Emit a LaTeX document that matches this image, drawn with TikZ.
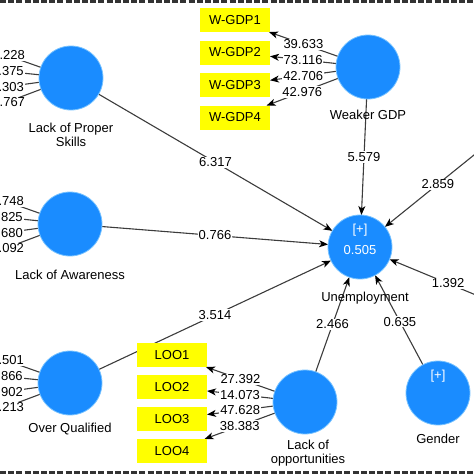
\documentclass[tikz,border=0pt]{standalone}
\usepackage{fontspec}
\setmainfont{Liberation Sans}
\usetikzlibrary{arrows.meta}
\definecolor{lvblue}{RGB}{26,140,255}
\definecolor{lvring}{RGB}{120,195,255}
\definecolor{edgegray}{RGB}{60,60,60}
\definecolor{indyellow}{RGB}{255,255,0}
\pgfdeclarelayer{bg}
\pgfsetlayers{bg,main}
\begin{document}
\begin{tikzpicture}[x=1pt,y=-1pt,
  font=\fontsize{13}{14.5}\selectfont,
  lv/.style={circle, fill=lvblue, draw=lvring, line width=0.8pt, minimum size=64pt, inner sep=0pt, outer sep=0pt},
  indbox/.style={rectangle, fill=indyellow, minimum width=70pt, minimum height=24pt, inner sep=0pt, outer sep=0pt},
  conn/.style={draw=edgegray, line width=1.1pt, -{Stealth[length=9pt,width=7pt,inset=2.5pt,color=black]}},
  plainconn/.style={draw=edgegray, line width=1.1pt},
  wt/.style={fill=white, inner sep=1pt, text=black},
  lvlabel/.style={align=center, inner sep=0pt, text=black},
  intext/.style={text=white, inner sep=0pt},
  borderdash/.style={draw=black!80, line width=3pt, dash pattern=on 6pt off 2.2pt}
]
\useasboundingbox (0,0) rectangle (474,474);

% latent variables
\node[lv] (LPS) at (71,78) {};
\node[lv] (LA) at (70,224) {};
\node[lv] (OQ) at (70,383) {};
\node[lv] (WG) at (368,67) {};
\node[lv] (UN) at (360,247) {};
\node[lv] (LO) at (305,402) {};
\node[lv] (GE) at (438,393) {};

\node[intext] (unplus) at (360,230) {[+]};
\node[intext] (unr) at (360,250) {0.505};
\node[intext] (geplus) at (438,376) {[+]};

% labels of latent variables
\node[lvlabel] (tLPS) at (71,135) {Lack of Proper\\Skills};
\node[lvlabel] (tLA) at (70,275) {Lack of Awareness};
\node[lvlabel] (tOQ) at (70,429) {Over Qualified};
\node[lvlabel] (tWG) at (368,115) {Weaker GDP};
\node[lvlabel] (tUN) at (365,298) {Unemployment};
\node[lvlabel] (tLO) at (308,453) {Lack of\\opportunities};
\node[lvlabel] (tGE) at (438,439) {Gender};

% indicator boxes
\node[indbox] (g1) at (235,20) {W-GDP1};
\node[indbox] (g2) at (235,52.5) {W-GDP2};
\node[indbox] (g3) at (235,85) {W-GDP3};
\node[indbox] (g4) at (235,117.5) {W-GDP4};
\node[indbox] (l1) at (172,355) {LOO1};
\node[indbox] (l2) at (172,387) {LOO2};
\node[indbox] (l3) at (172,419) {LOO3};
\node[indbox] (l4) at (172,451) {LOO4};

% off-canvas ends
\coordinate (rUp) at (500,134);
\coordinate (rDn) at (500,305);
\path (LPS) ++(-133,-47) coordinate (pA1) (LPS) ++(-133,-13.5) coordinate (pA2)
      (LPS) ++(-133,18) coordinate (pA3) (LPS) ++(-133,50) coordinate (pA4);
\path (LA) ++(-133,-47) coordinate (pB1) (LA) ++(-133,-13.5) coordinate (pB2)
      (LA) ++(-133,18) coordinate (pB3) (LA) ++(-133,50) coordinate (pB4);
\path (OQ) ++(-133,-47) coordinate (pC1) (OQ) ++(-133,-13.5) coordinate (pC2)
      (OQ) ++(-133,18) coordinate (pC3) (OQ) ++(-133,50) coordinate (pC4);

\begin{pgfonlayer}{bg}
% structural paths
\draw[conn] (LPS) -- node[wt,pos=0.5]{6.317} (UN);
\draw[conn] (LA) -- node[wt,pos=0.5]{0.766} (UN);
\draw[conn] (OQ) -- node[wt,pos=0.5]{3.514} (UN);
\draw[conn] (WG) -- node[wt,pos=0.5]{5.579} (UN);
\draw[conn] (rUp) -- node[wt,pos=0.54]{2.859} (UN);
\draw[conn] (rDn) -- node[wt,pos=0.47]{1.392} (UN);
\draw[conn] (LO) -- node[wt,pos=0.5]{2.466} (UN);
\draw[conn] (GE) -- node[wt,pos=0.48]{0.635} (UN);

% outer loadings
\draw[conn] (WG) -- node[wt,pos=0.5]{39.633} (g1);
\draw[conn] (WG) -- node[wt,pos=0.5]{73.116} (g2);
\draw[conn] (WG) -- node[wt,pos=0.5]{42.706} (g3);
\draw[conn] (WG) -- node[wt,pos=0.5]{42.976} (g4);
\draw[conn] (LO) -- node[wt,pos=0.5]{27.392} (l1);
\draw[conn] (LO) -- node[wt,pos=0.5]{14.073} (l2);
\draw[conn] (LO) -- node[wt,pos=0.5]{47.628} (l3);
\draw[conn] (LO) -- node[wt,pos=0.5]{38.383} (l4);

\draw[plainconn] (LPS) -- node[wt,pos=0.335,anchor=east,xshift=20pt]{.228} (pA1);
\draw[plainconn] (LPS) -- node[wt,pos=0.335,anchor=east,xshift=20pt]{.375} (pA2);
\draw[plainconn] (LPS) -- node[wt,pos=0.335,anchor=east,xshift=20pt]{.303} (pA3);
\draw[plainconn] (LPS) -- node[wt,pos=0.335,anchor=east,xshift=20pt]{.767} (pA4);
\draw[plainconn] (LA) -- node[wt,pos=0.335,anchor=east,xshift=20pt]{.748} (pB1);
\draw[plainconn] (LA) -- node[wt,pos=0.335,anchor=east,xshift=20pt]{.825} (pB2);
\draw[plainconn] (LA) -- node[wt,pos=0.335,anchor=east,xshift=20pt]{680} (pB3);
\draw[plainconn] (LA) -- node[wt,pos=0.335,anchor=east,xshift=20pt]{.092} (pB4);
\draw[plainconn] (OQ) -- node[wt,pos=0.335,anchor=east,xshift=20pt]{.501} (pC1);
\draw[plainconn] (OQ) -- node[wt,pos=0.335,anchor=east,xshift=20pt]{.866} (pC2);
\draw[plainconn] (OQ) -- node[wt,pos=0.335,anchor=east,xshift=20pt]{902} (pC3);
\draw[plainconn] (OQ) -- node[wt,pos=0.335,anchor=east,xshift=20pt]{.213} (pC4);
\end{pgfonlayer}

% dashed frame lines
\draw[borderdash] (0,1.5) -- (474,1.5);
\draw[borderdash] (0,472.5) -- (474,472.5);
\end{tikzpicture}
\end{document}
